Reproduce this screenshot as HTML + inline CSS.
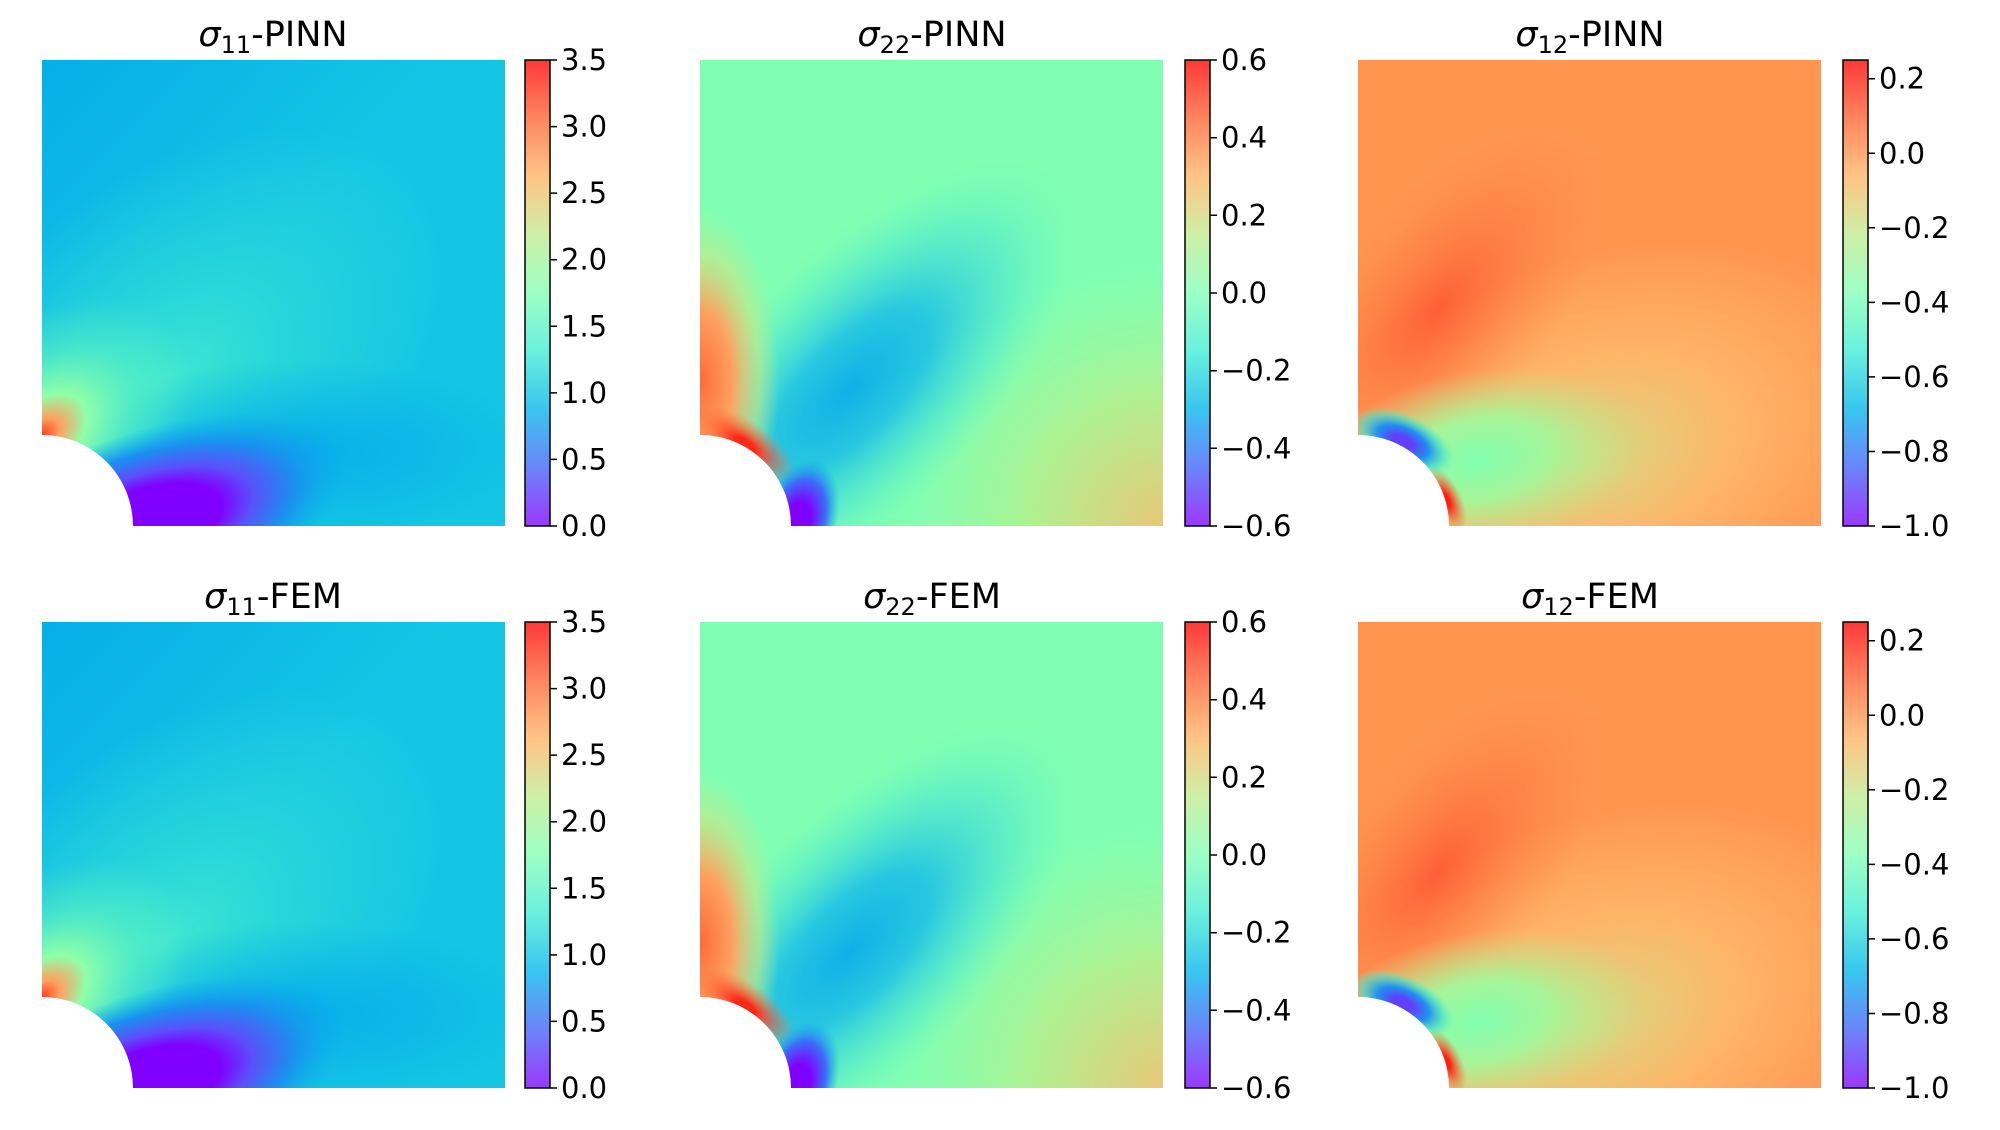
<!DOCTYPE html>
<html><head><meta charset="utf-8"><style>html,body{margin:0;padding:0;background:#fff}svg{display:block}</style></head>
<body>
<svg width="2000" height="1130" viewBox="0 0 2000 1130" xmlns="http://www.w3.org/2000/svg" font-family="DejaVu Sans, Liberation Sans, sans-serif">
<defs>
<linearGradient id="rb" x1="0" y1="1" x2="0" y2="0">
<stop offset="0" stop-color="#8000ff"/><stop offset="0.125" stop-color="#4062fa"/><stop offset="0.25" stop-color="#00b5eb"/><stop offset="0.375" stop-color="#40ecd4"/><stop offset="0.5" stop-color="#80ffb4"/><stop offset="0.625" stop-color="#c0eb8d"/><stop offset="0.75" stop-color="#ffb462"/><stop offset="0.875" stop-color="#ff6232"/><stop offset="1" stop-color="#ff0000"/>
</linearGradient>
<clipPath id="cp"><rect x="0" y="0" width="463" height="466"/></clipPath>
<!-- sigma11 -->
<linearGradient id="a1" x1="0" y1="0" x2="1" y2="1"><stop offset="0" stop-color="#06aee8"/><stop offset="0.45" stop-color="#06aee8" stop-opacity="0"/></linearGradient>
<radialGradient id="a2" cx="0" cy="0" r="1" gradientUnits="userSpaceOnUse" gradientTransform="translate(120,330) rotate(-40) scale(330,200)"><stop offset="0" stop-color="#40e8d0"/><stop offset="0.5" stop-color="#30dcd6" stop-opacity="0.6"/><stop offset="1" stop-color="#30dcd6" stop-opacity="0"/></radialGradient>
<radialGradient id="a3" cx="0" cy="0" r="1" gradientUnits="userSpaceOnUse" gradientTransform="translate(0,375) rotate(-40) scale(170,110)"><stop offset="0" stop-color="#ff4020"/><stop offset="0.12" stop-color="#ffa060"/><stop offset="0.3" stop-color="#90ffa8"/><stop offset="0.65" stop-color="#60f4c0" stop-opacity="0.5"/><stop offset="1" stop-color="#60f0c0" stop-opacity="0"/></radialGradient>
<radialGradient id="a4" cx="0" cy="0" r="1" gradientUnits="userSpaceOnUse" gradientTransform="translate(95,470) rotate(-20) scale(220,95)"><stop offset="0.4" stop-color="#8000ff"/><stop offset="0.55" stop-color="#5a50fa"/><stop offset="0.75" stop-color="#1a90f0"/><stop offset="1" stop-color="#08aeea" stop-opacity="0"/></radialGradient>
<radialGradient id="a5" cx="0" cy="0" r="1" gradientUnits="userSpaceOnUse" gradientTransform="translate(260,390) scale(240,90)"><stop offset="0" stop-color="#06aeea"/><stop offset="1" stop-color="#06aeea" stop-opacity="0"/></radialGradient>
<g id="p11" clip-path="url(#cp)">
<rect width="463" height="466" fill="#14c6e4"/>
<rect width="463" height="466" fill="url(#a1)"/>
<rect width="463" height="466" fill="url(#a2)"/>
<rect width="463" height="466" fill="url(#a5)"/>
<rect width="463" height="466" fill="url(#a3)"/>
<rect width="463" height="466" fill="url(#a4)"/>
<circle cx="0" cy="466" r="91" fill="#fff"/>
</g>
<!-- sigma22 -->
<radialGradient id="b1" cx="0" cy="0" r="1" gradientUnits="userSpaceOnUse" gradientTransform="translate(150,330) rotate(-45) scale(300,130)"><stop offset="0" stop-color="#10b0e8"/><stop offset="0.35" stop-color="#28c8e0"/><stop offset="0.7" stop-color="#50e8d0" stop-opacity="0.6"/><stop offset="1" stop-color="#70f8c0" stop-opacity="0"/></radialGradient>
<radialGradient id="b2" cx="0" cy="0" r="1" gradientUnits="userSpaceOnUse" gradientTransform="translate(0,320) scale(80,170)"><stop offset="0" stop-color="#ff6a3a"/><stop offset="0.4" stop-color="#ffa060"/><stop offset="0.75" stop-color="#c8e888" stop-opacity="0.6"/><stop offset="1" stop-color="#c0e890" stop-opacity="0"/></radialGradient>
<radialGradient id="b3" cx="0" cy="0" r="1" gradientUnits="userSpaceOnUse" gradientTransform="translate(45,385) rotate(35) scale(60,25)"><stop offset="0.2" stop-color="#ff2818"/><stop offset="1" stop-color="#ff8040" stop-opacity="0"/></radialGradient>
<radialGradient id="b4" cx="0" cy="0" r="1" gradientUnits="userSpaceOnUse" gradientTransform="translate(95,466) rotate(-70) scale(70,40)"><stop offset="0.35" stop-color="#8000ff"/><stop offset="0.7" stop-color="#3a70f8"/><stop offset="1" stop-color="#10b0e8" stop-opacity="0"/></radialGradient>
<radialGradient id="b5" cx="463" cy="466" r="260" gradientUnits="userSpaceOnUse"><stop offset="0" stop-color="#e8c878"/><stop offset="0.5" stop-color="#b0f090"/><stop offset="1" stop-color="#a0f8a0" stop-opacity="0"/></radialGradient>
<g id="p22" clip-path="url(#cp)">
<rect width="463" height="466" fill="#80ffb2"/>
<rect width="463" height="466" fill="url(#b5)"/>
<rect width="463" height="466" fill="url(#b1)"/>
<rect width="463" height="466" fill="url(#b2)"/>
<rect width="463" height="466" fill="url(#b3)"/>
<rect width="463" height="466" fill="url(#b4)"/>
<circle cx="0" cy="466" r="91" fill="#fff"/>
</g>
<!-- sigma12 -->
<radialGradient id="c1" cx="0" cy="0" r="1" gradientUnits="userSpaceOnUse" gradientTransform="translate(80,250) rotate(-50) scale(230,110)"><stop offset="0" stop-color="#ff5e36"/><stop offset="1" stop-color="#ff8a4a" stop-opacity="0"/></radialGradient>
<radialGradient id="c2" cx="0" cy="0" r="1" gradientUnits="userSpaceOnUse" gradientTransform="translate(230,400) rotate(-20) scale(320,200)"><stop offset="0" stop-color="#d8d880"/><stop offset="0.5" stop-color="#ffb468"/><stop offset="1" stop-color="#ffb468" stop-opacity="0"/></radialGradient>
<radialGradient id="c3" cx="0" cy="0" r="1" gradientUnits="userSpaceOnUse" gradientTransform="translate(120,400) rotate(-10) scale(170,90)"><stop offset="0" stop-color="#80ffb0"/><stop offset="0.45" stop-color="#a8f498"/><stop offset="1" stop-color="#c8e088" stop-opacity="0"/></radialGradient>
<radialGradient id="c4" cx="0" cy="0" r="1" gradientUnits="userSpaceOnUse" gradientTransform="translate(45,382) rotate(25) scale(55,28)"><stop offset="0.2" stop-color="#6040fa"/><stop offset="0.5" stop-color="#2090f0"/><stop offset="0.8" stop-color="#40e0d0" stop-opacity="0.6"/><stop offset="1" stop-color="#60f0c0" stop-opacity="0"/></radialGradient>
<radialGradient id="c5" cx="0" cy="0" r="1" gradientUnits="userSpaceOnUse" gradientTransform="translate(88,440) rotate(65) scale(35,16)"><stop offset="0.2" stop-color="#ff2010"/><stop offset="1" stop-color="#ff6030" stop-opacity="0"/></radialGradient>
<g id="p12" clip-path="url(#cp)">
<rect width="463" height="466" fill="#ff9650"/>
<rect width="463" height="466" fill="url(#c2)"/>
<rect width="463" height="466" fill="url(#c1)"/>
<rect width="463" height="466" fill="url(#c3)"/>
<rect width="463" height="466" fill="url(#c4)"/>
<rect width="463" height="466" fill="url(#c5)"/>
<circle cx="0" cy="466" r="91" fill="#fff"/>
</g>
<g id="bars">
<rect x="525" y="60" width="25" height="466" fill="url(#rb)" opacity="0.78"/>
<rect x="525" y="60" width="25" height="466" fill="none" stroke="#000" stroke-width="1.5"/>
<rect x="1185" y="60" width="25" height="466" fill="url(#rb)" opacity="0.78"/>
<rect x="1185" y="60" width="25" height="466" fill="none" stroke="#000" stroke-width="1.5"/>
<rect x="1843" y="60" width="25" height="466" fill="url(#rb)" opacity="0.78"/>
<rect x="1843" y="60" width="25" height="466" fill="none" stroke="#000" stroke-width="1.5"/>
<g stroke="#000" stroke-width="1.5">
<path d="M550 60h7M550 126.6h7M550 193.1h7M550 259.7h7M550 326.3h7M550 392.9h7M550 459.4h7M550 526h7"/>
<path d="M1210 60h7M1210 137.7h7M1210 215.3h7M1210 293h7M1210 370.7h7M1210 448.3h7M1210 526h7"/>
<path d="M1868 78.7h7M1868 153.3h7M1868 227.8h7M1868 302.4h7M1868 376.9h7M1868 451.5h7M1868 526h7"/>
</g>
<g dominant-baseline="central" font-size="29">
<text x="561" y="60">3.5</text><text x="561" y="126.6">3.0</text><text x="561" y="193.1">2.5</text><text x="561" y="259.7">2.0</text><text x="561" y="326.3">1.5</text><text x="561" y="392.9">1.0</text><text x="561" y="459.4">0.5</text><text x="561" y="526">0.0</text>
<text x="1221" y="60">0.6</text><text x="1221" y="137.7">0.4</text><text x="1221" y="215.3">0.2</text><text x="1221" y="293">0.0</text><text x="1221" y="370.7">−0.2</text><text x="1221" y="448.3">−0.4</text><text x="1221" y="526">−0.6</text>
<text x="1879" y="78.7">0.2</text><text x="1879" y="153.3">0.0</text><text x="1879" y="227.8">−0.2</text><text x="1879" y="302.4">−0.4</text><text x="1879" y="376.9">−0.6</text><text x="1879" y="451.5">−0.8</text><text x="1879" y="526">−1.0</text>
</g>
</g>
</defs>

<g fill="#000">
<g font-size="35">
<text x="273" y="46" text-anchor="middle"><tspan font-style="italic">σ</tspan><tspan font-size="24" dy="7">11</tspan><tspan dy="-7">-PINN</tspan></text>
<text x="932" y="46" text-anchor="middle"><tspan font-style="italic">σ</tspan><tspan font-size="24" dy="7">22</tspan><tspan dy="-7">-PINN</tspan></text>
<text x="1590" y="46" text-anchor="middle"><tspan font-style="italic">σ</tspan><tspan font-size="24" dy="7">12</tspan><tspan dy="-7">-PINN</tspan></text>
</g>
<use href="#p11" x="42" y="60"/>
<use href="#p22" x="700" y="60"/>
<use href="#p12" x="1358" y="60"/>
<use href="#bars"/>
<g transform="translate(0,562)">
<g font-size="35">
<text x="273" y="46" text-anchor="middle"><tspan font-style="italic">σ</tspan><tspan font-size="24" dy="7">11</tspan><tspan dy="-7">-FEM</tspan></text>
<text x="932" y="46" text-anchor="middle"><tspan font-style="italic">σ</tspan><tspan font-size="24" dy="7">22</tspan><tspan dy="-7">-FEM</tspan></text>
<text x="1590" y="46" text-anchor="middle"><tspan font-style="italic">σ</tspan><tspan font-size="24" dy="7">12</tspan><tspan dy="-7">-FEM</tspan></text>
</g>
<use href="#p11" x="42" y="60"/>
<use href="#p22" x="700" y="60"/>
<use href="#p12" x="1358" y="60"/>
<use href="#bars"/>
</g>
</g>
</svg>
</body></html>
